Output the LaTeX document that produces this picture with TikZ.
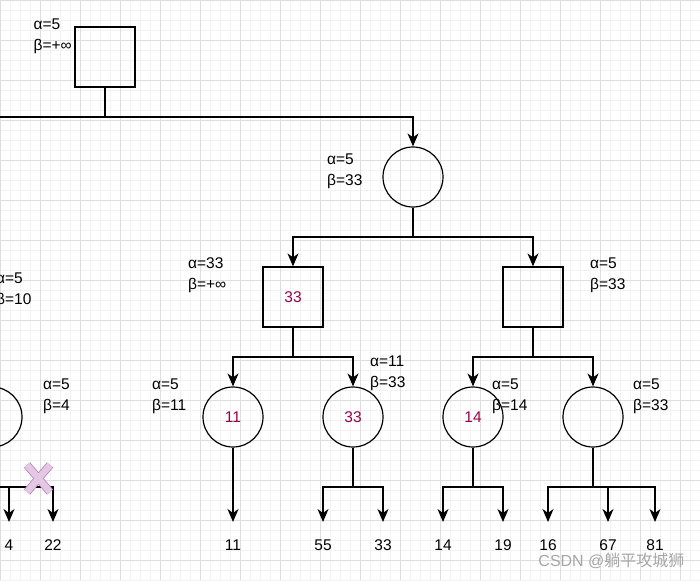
\documentclass[tikz,border=0pt]{standalone}
\usepackage{fontspec}
\setmainfont{Liberation Sans}
\newfontfamily\cjk{Noto Sans CJK SC}
\usetikzlibrary{arrows.meta}
\begin{document}
\begin{tikzpicture}[x=1pt,y=-1pt,
  sq/.style={draw,line width=1.2pt,minimum size=60pt,inner sep=0pt},
  cir/.style={draw,line width=1.2pt,circle,minimum size=60pt,inner sep=0pt},
  ln/.style={line width=1.4pt},
  ar/.style={line width=1.4pt,-{Stealth[length=13pt,width=11pt,inset=4pt]}},
  lab/.style={align=left,font=\fontsize{15.5}{21}\selectfont,inner sep=0pt},
  leaf/.style={font=\fontsize{15.5}{16}\selectfont,inner sep=0pt},
  every node/.style={font=\fontsize{15.5}{16}\selectfont}]
\useasboundingbox (0,0) rectangle (700,580);
\clip (0,0) rectangle (700,580);
\fill[white] (0,0) rectangle (700,580);
\draw[black!5] (0,0) grid[step=10pt] (700,580);
\draw[black!13] (-3,-3) grid[step=40pt] (700,580);
% nodes
\node[sq] (r) at (105,57) {};
\node[cir] (m) at (413,177) {};
\node[sq] (a) at (293,297) {\textcolor[HTML]{99004D}{33}};
\node[sq] (b) at (533,297) {};
\node[cir] (a1) at (233,417) {\textcolor[HTML]{99004D}{11}};
\node[cir] (a2) at (353,417) {\textcolor[HTML]{99004D}{33}};
\node[cir] (b1) at (473,417) {\textcolor[HTML]{99004D}{14}};
\node[cir] (b2) at (593,417) {};
\node[cir] (l) at (-8,417) {};
% labels
\node[lab,anchor=east] at (72,36) {α=5\\β=+∞};
\node[lab,anchor=west] at (327,171) {α=5\\β=33};
\node[lab,anchor=west] at (-4,290) {α=5\\β=10};
\node[lab,anchor=west] at (188,275) {α=33\\β=+∞};
\node[lab,anchor=west] at (590,275) {α=5\\β=33};
\node[lab,anchor=west] at (43,396) {α=5\\β=4};
\node[lab,anchor=west] at (152,396) {α=5\\β=11};
\node[lab,anchor=west] at (370,373) {α=11\\β=33};
\node[lab,anchor=west] at (492,396) {α=5\\β=14};
\node[lab,anchor=west] at (633,396) {α=5\\β=33};
% leaves
\foreach \n/\x/\t in {L1/9/4,L2/53/22,A1/233/11,A2/323/55,A3/383/33,B1/443/14,B2/503/19,C1/548/16,C2/608/67,C3/655/81}{
  \coordinate (\n) at (\x,522);
  \node[leaf] (t\n) at (\x,545) {\t};}
\coordinate (rj) at (105,117);
\coordinate (mj) at (413,237);
\coordinate (aj) at (293,357);
\coordinate (bj) at (533,357);
\coordinate (lj) at (-8,487);
\coordinate (a2j) at (353,487);
\coordinate (b1j) at (473,487);
\coordinate (b2j) at (593,487);
% connectors
\draw[ln] (r.south) -- (rj);
\draw[ar] (-5,117) -| (m.north);
\draw[ln] (m.south) -- (mj);
\draw[ar] (mj) -| (a.north);
\draw[ar] (mj) -| (b.north);
\draw[ln] (a.south) -- (aj);
\draw[ar] (aj) -| (a1.north);
\draw[ar] (aj) -| (a2.north);
\draw[ln] (b.south) -- (bj);
\draw[ar] (bj) -| (b1.north);
\draw[ar] (bj) -| (b2.north);
\draw[ln] (l.south) -- (lj);
\draw[ar] (-5,487) -| (L1);
\draw[ar] (lj) -| (L2);
\draw[ar] (a1.south) -- (A1);
\draw[ln] (a2.south) -- (a2j);
\draw[ar] (a2j) -| (A2);
\draw[ar] (a2j) -| (A3);
\draw[ln] (b1.south) -- (b1j);
\draw[ar] (b1j) -| (B1);
\draw[ar] (b1j) -| (B2);
\draw[ln] (b2.south) -- (b2j);
\draw[ar] (b2j) -| (C1);
\draw[ar] (b2j) -| (C3);
\draw[ar] (C2 |- b2j) -- (C2);
% X mark
\coordinate (x1) at (27,465); \coordinate (x2) at (50,492);
\coordinate (x3) at (50,465); \coordinate (x4) at (27,492);
\draw[line width=8pt,violet!55] (x1) -- (x2) (x3) -- (x4);
\draw[line width=6.6pt,violet!22] (x1) -- (x2) (x3) -- (x4);
% watermark
\node[text=black!35,font=\fontsize{16}{17}\selectfont,anchor=east] (wm) at (688,561) {CSDN @{\cjk 躺平攻城狮}};
\end{tikzpicture}
\end{document}
